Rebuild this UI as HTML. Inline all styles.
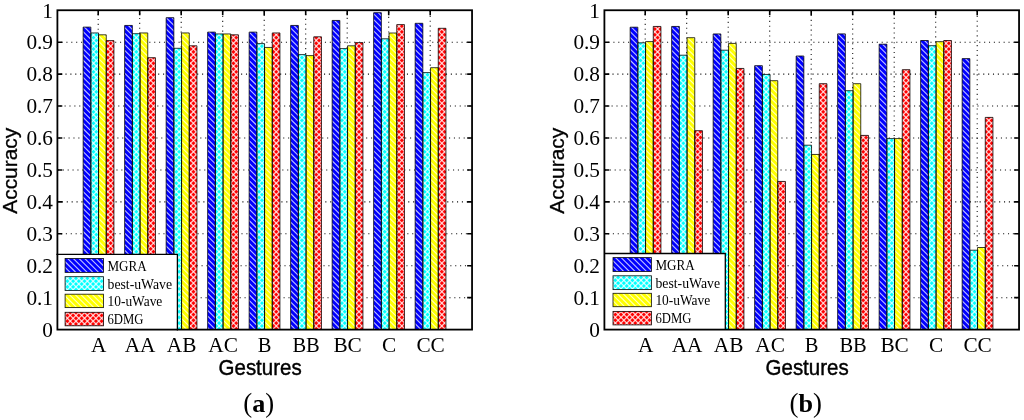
<!DOCTYPE html>
<html lang="en">
<head>
<meta charset="utf-8">
<title>Accuracy by gesture</title>
<style>
html,body{margin:0;padding:0;background:#fff;}
body{width:1024px;height:420px;overflow:hidden;}
svg{display:block;}
text{fill:#000;}
</style>
</head>
<body>
<svg width="1024" height="420" viewBox="0 0 1024 420">
<defs>
<path id="hbk" d="M-268.07,10.25l319.4,319.4M-262.36,10.25l319.4,319.4M-256.65,10.25l319.4,319.4M-250.94,10.25l319.4,319.4M-245.23,10.25l319.4,319.4M-239.52,10.25l319.4,319.4M-233.81,10.25l319.4,319.4M-228.10,10.25l319.4,319.4M-222.39,10.25l319.4,319.4M-216.68,10.25l319.4,319.4M-210.97,10.25l319.4,319.4M-205.26,10.25l319.4,319.4M-199.55,10.25l319.4,319.4M-193.84,10.25l319.4,319.4M-188.13,10.25l319.4,319.4M-182.42,10.25l319.4,319.4M-176.71,10.25l319.4,319.4M-171.00,10.25l319.4,319.4M-165.29,10.25l319.4,319.4M-159.58,10.25l319.4,319.4M-153.87,10.25l319.4,319.4M-148.16,10.25l319.4,319.4M-142.45,10.25l319.4,319.4M-136.74,10.25l319.4,319.4M-131.03,10.25l319.4,319.4M-125.32,10.25l319.4,319.4M-119.61,10.25l319.4,319.4M-113.90,10.25l319.4,319.4M-108.19,10.25l319.4,319.4M-102.48,10.25l319.4,319.4M-96.77,10.25l319.4,319.4M-91.06,10.25l319.4,319.4M-85.35,10.25l319.4,319.4M-79.64,10.25l319.4,319.4M-73.93,10.25l319.4,319.4M-68.22,10.25l319.4,319.4M-62.51,10.25l319.4,319.4M-56.80,10.25l319.4,319.4M-51.09,10.25l319.4,319.4M-45.38,10.25l319.4,319.4M-39.67,10.25l319.4,319.4M-33.96,10.25l319.4,319.4M-28.25,10.25l319.4,319.4M-22.54,10.25l319.4,319.4M-16.83,10.25l319.4,319.4M-11.12,10.25l319.4,319.4M-5.41,10.25l319.4,319.4M0.30,10.25l319.4,319.4M6.01,10.25l319.4,319.4M11.72,10.25l319.4,319.4M17.43,10.25l319.4,319.4M23.14,10.25l319.4,319.4M28.85,10.25l319.4,319.4M34.56,10.25l319.4,319.4M40.27,10.25l319.4,319.4M45.98,10.25l319.4,319.4M51.69,10.25l319.4,319.4M57.40,10.25l319.4,319.4M63.11,10.25l319.4,319.4M68.82,10.25l319.4,319.4M74.53,10.25l319.4,319.4M80.24,10.25l319.4,319.4M85.95,10.25l319.4,319.4M91.66,10.25l319.4,319.4M97.37,10.25l319.4,319.4M103.08,10.25l319.4,319.4M108.79,10.25l319.4,319.4M114.50,10.25l319.4,319.4M120.21,10.25l319.4,319.4M125.92,10.25l319.4,319.4M131.63,10.25l319.4,319.4M137.34,10.25l319.4,319.4M143.05,10.25l319.4,319.4M148.76,10.25l319.4,319.4M154.47,10.25l319.4,319.4M160.18,10.25l319.4,319.4M165.89,10.25l319.4,319.4M171.60,10.25l319.4,319.4M177.31,10.25l319.4,319.4M183.02,10.25l319.4,319.4M188.73,10.25l319.4,319.4M194.44,10.25l319.4,319.4M200.15,10.25l319.4,319.4M205.86,10.25l319.4,319.4M211.57,10.25l319.4,319.4M217.28,10.25l319.4,319.4M222.99,10.25l319.4,319.4M228.70,10.25l319.4,319.4M234.41,10.25l319.4,319.4M240.12,10.25l319.4,319.4M245.83,10.25l319.4,319.4M251.54,10.25l319.4,319.4M257.25,10.25l319.4,319.4M262.96,10.25l319.4,319.4M268.67,10.25l319.4,319.4M274.38,10.25l319.4,319.4M280.09,10.25l319.4,319.4M285.80,10.25l319.4,319.4M291.51,10.25l319.4,319.4M297.22,10.25l319.4,319.4M302.93,10.25l319.4,319.4M308.64,10.25l319.4,319.4M314.35,10.25l319.4,319.4M320.06,10.25l319.4,319.4M325.77,10.25l319.4,319.4M331.48,10.25l319.4,319.4M337.19,10.25l319.4,319.4M342.90,10.25l319.4,319.4M348.61,10.25l319.4,319.4M354.32,10.25l319.4,319.4M360.03,10.25l319.4,319.4M365.74,10.25l319.4,319.4M371.45,10.25l319.4,319.4M377.16,10.25l319.4,319.4M382.87,10.25l319.4,319.4M388.58,10.25l319.4,319.4M394.29,10.25l319.4,319.4M400.00,10.25l319.4,319.4M405.71,10.25l319.4,319.4M411.42,10.25l319.4,319.4M417.13,10.25l319.4,319.4M422.84,10.25l319.4,319.4M428.55,10.25l319.4,319.4M434.26,10.25l319.4,319.4M439.97,10.25l319.4,319.4M445.68,10.25l319.4,319.4M451.39,10.25l319.4,319.4M457.10,10.25l319.4,319.4M462.81,10.25l319.4,319.4M468.52,10.25l319.4,319.4M474.23,10.25l319.4,319.4"/>
<path id="hfw" d="M57.40,10.25l-319.4,319.4M63.11,10.25l-319.4,319.4M68.82,10.25l-319.4,319.4M74.53,10.25l-319.4,319.4M80.24,10.25l-319.4,319.4M85.95,10.25l-319.4,319.4M91.66,10.25l-319.4,319.4M97.37,10.25l-319.4,319.4M103.08,10.25l-319.4,319.4M108.79,10.25l-319.4,319.4M114.50,10.25l-319.4,319.4M120.21,10.25l-319.4,319.4M125.92,10.25l-319.4,319.4M131.63,10.25l-319.4,319.4M137.34,10.25l-319.4,319.4M143.05,10.25l-319.4,319.4M148.76,10.25l-319.4,319.4M154.47,10.25l-319.4,319.4M160.18,10.25l-319.4,319.4M165.89,10.25l-319.4,319.4M171.60,10.25l-319.4,319.4M177.31,10.25l-319.4,319.4M183.02,10.25l-319.4,319.4M188.73,10.25l-319.4,319.4M194.44,10.25l-319.4,319.4M200.15,10.25l-319.4,319.4M205.86,10.25l-319.4,319.4M211.57,10.25l-319.4,319.4M217.28,10.25l-319.4,319.4M222.99,10.25l-319.4,319.4M228.70,10.25l-319.4,319.4M234.41,10.25l-319.4,319.4M240.12,10.25l-319.4,319.4M245.83,10.25l-319.4,319.4M251.54,10.25l-319.4,319.4M257.25,10.25l-319.4,319.4M262.96,10.25l-319.4,319.4M268.67,10.25l-319.4,319.4M274.38,10.25l-319.4,319.4M280.09,10.25l-319.4,319.4M285.80,10.25l-319.4,319.4M291.51,10.25l-319.4,319.4M297.22,10.25l-319.4,319.4M302.93,10.25l-319.4,319.4M308.64,10.25l-319.4,319.4M314.35,10.25l-319.4,319.4M320.06,10.25l-319.4,319.4M325.77,10.25l-319.4,319.4M331.48,10.25l-319.4,319.4M337.19,10.25l-319.4,319.4M342.90,10.25l-319.4,319.4M348.61,10.25l-319.4,319.4M354.32,10.25l-319.4,319.4M360.03,10.25l-319.4,319.4M365.74,10.25l-319.4,319.4M371.45,10.25l-319.4,319.4M377.16,10.25l-319.4,319.4M382.87,10.25l-319.4,319.4M388.58,10.25l-319.4,319.4M394.29,10.25l-319.4,319.4M400.00,10.25l-319.4,319.4M405.71,10.25l-319.4,319.4M411.42,10.25l-319.4,319.4M417.13,10.25l-319.4,319.4M422.84,10.25l-319.4,319.4M428.55,10.25l-319.4,319.4M434.26,10.25l-319.4,319.4M439.97,10.25l-319.4,319.4M445.68,10.25l-319.4,319.4M451.39,10.25l-319.4,319.4M457.10,10.25l-319.4,319.4M462.81,10.25l-319.4,319.4M468.52,10.25l-319.4,319.4M474.23,10.25l-319.4,319.4M479.94,10.25l-319.4,319.4M485.65,10.25l-319.4,319.4M491.36,10.25l-319.4,319.4M497.07,10.25l-319.4,319.4M502.78,10.25l-319.4,319.4M508.49,10.25l-319.4,319.4M514.20,10.25l-319.4,319.4M519.91,10.25l-319.4,319.4M525.62,10.25l-319.4,319.4M531.33,10.25l-319.4,319.4M537.04,10.25l-319.4,319.4M542.75,10.25l-319.4,319.4M548.46,10.25l-319.4,319.4M554.17,10.25l-319.4,319.4M559.88,10.25l-319.4,319.4M565.59,10.25l-319.4,319.4M571.30,10.25l-319.4,319.4M577.01,10.25l-319.4,319.4M582.72,10.25l-319.4,319.4M588.43,10.25l-319.4,319.4M594.14,10.25l-319.4,319.4M599.85,10.25l-319.4,319.4M605.56,10.25l-319.4,319.4M611.27,10.25l-319.4,319.4M616.98,10.25l-319.4,319.4M622.69,10.25l-319.4,319.4M628.40,10.25l-319.4,319.4M634.11,10.25l-319.4,319.4M639.82,10.25l-319.4,319.4M645.53,10.25l-319.4,319.4M651.24,10.25l-319.4,319.4M656.95,10.25l-319.4,319.4M662.66,10.25l-319.4,319.4M668.37,10.25l-319.4,319.4M674.08,10.25l-319.4,319.4M679.79,10.25l-319.4,319.4M685.50,10.25l-319.4,319.4M691.21,10.25l-319.4,319.4M696.92,10.25l-319.4,319.4M702.63,10.25l-319.4,319.4M708.34,10.25l-319.4,319.4M714.05,10.25l-319.4,319.4M719.76,10.25l-319.4,319.4M725.47,10.25l-319.4,319.4M731.18,10.25l-319.4,319.4M736.89,10.25l-319.4,319.4M742.60,10.25l-319.4,319.4M748.31,10.25l-319.4,319.4M754.02,10.25l-319.4,319.4M759.73,10.25l-319.4,319.4M765.44,10.25l-319.4,319.4M771.15,10.25l-319.4,319.4M776.86,10.25l-319.4,319.4M782.57,10.25l-319.4,319.4M788.28,10.25l-319.4,319.4M793.99,10.25l-319.4,319.4"/>
<clipPath id="sd"><rect x="65.1" y="258.5" width="38.4" height="13.90"/><rect x="65.1" y="294.2" width="38.4" height="13.40"/></clipPath>
<clipPath id="sx"><rect x="65.1" y="276.7" width="38.4" height="13.80"/><rect x="65.1" y="312.3" width="38.4" height="13.50"/></clipPath>
</defs>
<rect width="1024" height="420" fill="#fff"/>
<g transform="translate(0,0)">
<g stroke="#111" stroke-width="1.05" stroke-dasharray="1.1 3.778" fill="none">
<path d="M98.20,10.25 V329.6" stroke-dashoffset="1.06"/>
<path d="M139.70,10.25 V329.6" stroke-dashoffset="2.06"/>
<path d="M181.20,10.25 V329.6" stroke-dashoffset="3.06"/>
<path d="M222.70,10.25 V329.6" stroke-dashoffset="4.06"/>
<path d="M264.20,10.25 V329.6" stroke-dashoffset="0.18"/>
<path d="M305.70,10.25 V329.6" stroke-dashoffset="1.18"/>
<path d="M347.20,10.25 V329.6" stroke-dashoffset="2.18"/>
<path d="M388.70,10.25 V329.6" stroke-dashoffset="3.18"/>
<path d="M430.20,10.25 V329.6" stroke-dashoffset="4.18"/>
<path d="M57.4,297.67 H472.05" stroke-dashoffset="3.11"/>
<path d="M57.4,265.73 H472.05" stroke-dashoffset="2.21"/>
<path d="M57.4,233.80 H472.05" stroke-dashoffset="1.31"/>
<path d="M57.4,201.86 H472.05" stroke-dashoffset="0.41"/>
<path d="M57.4,169.93 H472.05" stroke-dashoffset="4.39"/>
<path d="M57.4,137.99 H472.05" stroke-dashoffset="3.49"/>
<path d="M57.4,106.06 H472.05" stroke-dashoffset="2.59"/>
<path d="M57.4,74.12 H472.05" stroke-dashoffset="1.69"/>
<path d="M57.4,42.19 H472.05" stroke-dashoffset="0.79"/>
</g>
<path d="M98.20,10.25 v4.9 M98.20,329.6 v-4.9 M139.70,10.25 v4.9 M139.70,329.6 v-4.9 M181.20,10.25 v4.9 M181.20,329.6 v-4.9 M222.70,10.25 v4.9 M222.70,329.6 v-4.9 M264.20,10.25 v4.9 M264.20,329.6 v-4.9 M305.70,10.25 v4.9 M305.70,329.6 v-4.9 M347.20,10.25 v4.9 M347.20,329.6 v-4.9 M388.70,10.25 v4.9 M388.70,329.6 v-4.9 M430.20,10.25 v4.9 M430.20,329.6 v-4.9 M57.4,297.67 h4.9 M472.05,297.67 h-4.9 M57.4,265.73 h4.9 M472.05,265.73 h-4.9 M57.4,233.80 h4.9 M472.05,233.80 h-4.9 M57.4,201.86 h4.9 M472.05,201.86 h-4.9 M57.4,169.93 h4.9 M472.05,169.93 h-4.9 M57.4,137.99 h4.9 M472.05,137.99 h-4.9 M57.4,106.06 h4.9 M472.05,106.06 h-4.9 M57.4,74.12 h4.9 M472.05,74.12 h-4.9 M57.4,42.19 h4.9 M472.05,42.19 h-4.9" stroke="#000" stroke-width="1.6" fill="none"/>
<rect x="83.15" y="27.10" width="7.7" height="302.50" fill="#0000ff"/>
<rect x="90.85" y="32.95" width="7.7" height="296.65" fill="#00ffff"/>
<rect x="98.55" y="34.80" width="7.7" height="294.80" fill="#ffff00"/>
<rect x="106.25" y="40.60" width="7.7" height="289.00" fill="#ff0000"/>
<rect x="124.65" y="25.45" width="7.7" height="304.15" fill="#0000ff"/>
<rect x="132.35" y="33.70" width="7.7" height="295.90" fill="#00ffff"/>
<rect x="140.05" y="32.95" width="7.7" height="296.65" fill="#ffff00"/>
<rect x="147.75" y="57.70" width="7.7" height="271.90" fill="#ff0000"/>
<rect x="166.15" y="17.70" width="7.7" height="311.90" fill="#0000ff"/>
<rect x="173.85" y="48.30" width="7.7" height="281.30" fill="#00ffff"/>
<rect x="181.55" y="32.95" width="7.7" height="296.65" fill="#ffff00"/>
<rect x="189.25" y="45.80" width="7.7" height="283.80" fill="#ff0000"/>
<rect x="207.65" y="32.10" width="7.7" height="297.50" fill="#0000ff"/>
<rect x="215.35" y="33.95" width="7.7" height="295.65" fill="#00ffff"/>
<rect x="223.05" y="33.95" width="7.7" height="295.65" fill="#ffff00"/>
<rect x="230.75" y="34.80" width="7.7" height="294.80" fill="#ff0000"/>
<rect x="249.15" y="32.10" width="7.7" height="297.50" fill="#0000ff"/>
<rect x="256.85" y="43.60" width="7.7" height="286.00" fill="#00ffff"/>
<rect x="264.55" y="47.45" width="7.7" height="282.15" fill="#ffff00"/>
<rect x="272.25" y="32.95" width="7.7" height="296.65" fill="#ff0000"/>
<rect x="290.65" y="25.45" width="7.7" height="304.15" fill="#0000ff"/>
<rect x="298.35" y="54.60" width="7.7" height="275.00" fill="#00ffff"/>
<rect x="306.05" y="55.60" width="7.7" height="274.00" fill="#ffff00"/>
<rect x="313.75" y="36.80" width="7.7" height="292.80" fill="#ff0000"/>
<rect x="332.15" y="20.45" width="7.7" height="309.15" fill="#0000ff"/>
<rect x="339.85" y="48.60" width="7.7" height="281.00" fill="#00ffff"/>
<rect x="347.55" y="45.80" width="7.7" height="283.80" fill="#ffff00"/>
<rect x="355.25" y="42.60" width="7.7" height="287.00" fill="#ff0000"/>
<rect x="373.65" y="12.70" width="7.7" height="316.90" fill="#0000ff"/>
<rect x="381.35" y="38.80" width="7.7" height="290.80" fill="#00ffff"/>
<rect x="389.05" y="33.00" width="7.7" height="296.60" fill="#ffff00"/>
<rect x="396.75" y="24.60" width="7.7" height="305.00" fill="#ff0000"/>
<rect x="415.15" y="23.30" width="7.7" height="306.30" fill="#0000ff"/>
<rect x="422.85" y="72.60" width="7.7" height="257.00" fill="#00ffff"/>
<rect x="430.55" y="67.70" width="7.7" height="261.90" fill="#ffff00"/>
<rect x="438.25" y="28.30" width="7.7" height="301.30" fill="#ff0000"/>
<clipPath id="cda"><rect x="83.15" y="27.10" width="7.7" height="302.50"/><rect x="98.55" y="34.80" width="7.7" height="294.80"/><rect x="124.65" y="25.45" width="7.7" height="304.15"/><rect x="140.05" y="32.95" width="7.7" height="296.65"/><rect x="166.15" y="17.70" width="7.7" height="311.90"/><rect x="181.55" y="32.95" width="7.7" height="296.65"/><rect x="207.65" y="32.10" width="7.7" height="297.50"/><rect x="223.05" y="33.95" width="7.7" height="295.65"/><rect x="249.15" y="32.10" width="7.7" height="297.50"/><rect x="264.55" y="47.45" width="7.7" height="282.15"/><rect x="290.65" y="25.45" width="7.7" height="304.15"/><rect x="306.05" y="55.60" width="7.7" height="274.00"/><rect x="332.15" y="20.45" width="7.7" height="309.15"/><rect x="347.55" y="45.80" width="7.7" height="283.80"/><rect x="373.65" y="12.70" width="7.7" height="316.90"/><rect x="389.05" y="33.00" width="7.7" height="296.60"/><rect x="415.15" y="23.30" width="7.7" height="306.30"/><rect x="430.55" y="67.70" width="7.7" height="261.90"/></clipPath>
<clipPath id="cxa"><rect x="90.85" y="32.95" width="7.7" height="296.65"/><rect x="106.25" y="40.60" width="7.7" height="289.00"/><rect x="132.35" y="33.70" width="7.7" height="295.90"/><rect x="147.75" y="57.70" width="7.7" height="271.90"/><rect x="173.85" y="48.30" width="7.7" height="281.30"/><rect x="189.25" y="45.80" width="7.7" height="283.80"/><rect x="215.35" y="33.95" width="7.7" height="295.65"/><rect x="230.75" y="34.80" width="7.7" height="294.80"/><rect x="256.85" y="43.60" width="7.7" height="286.00"/><rect x="272.25" y="32.95" width="7.7" height="296.65"/><rect x="298.35" y="54.60" width="7.7" height="275.00"/><rect x="313.75" y="36.80" width="7.7" height="292.80"/><rect x="339.85" y="48.60" width="7.7" height="281.00"/><rect x="355.25" y="42.60" width="7.7" height="287.00"/><rect x="381.35" y="38.80" width="7.7" height="290.80"/><rect x="396.75" y="24.60" width="7.7" height="305.00"/><rect x="422.85" y="72.60" width="7.7" height="257.00"/><rect x="438.25" y="28.30" width="7.7" height="301.30"/></clipPath>
<g clip-path="url(#cda)" fill="none" stroke="#fff" stroke-width="1.1" stroke-opacity="0.75"><use href="#hbk" x="4.3"/></g>
<g clip-path="url(#cxa)" fill="none" stroke="#fff" stroke-width="1.3" stroke-opacity="0.75"><use href="#hbk" x="0.2"/><use href="#hfw" x="3.5"/></g>
<path d="M83.15,329.6 V27.10 h7.7 V329.6 M90.85,329.6 V32.95 h7.7 V329.6 M98.55,329.6 V34.80 h7.7 V329.6 M106.25,329.6 V40.60 h7.7 V329.6 M124.65,329.6 V25.45 h7.7 V329.6 M132.35,329.6 V33.70 h7.7 V329.6 M140.05,329.6 V32.95 h7.7 V329.6 M147.75,329.6 V57.70 h7.7 V329.6 M166.15,329.6 V17.70 h7.7 V329.6 M173.85,329.6 V48.30 h7.7 V329.6 M181.55,329.6 V32.95 h7.7 V329.6 M189.25,329.6 V45.80 h7.7 V329.6 M207.65,329.6 V32.10 h7.7 V329.6 M215.35,329.6 V33.95 h7.7 V329.6 M223.05,329.6 V33.95 h7.7 V329.6 M230.75,329.6 V34.80 h7.7 V329.6 M249.15,329.6 V32.10 h7.7 V329.6 M256.85,329.6 V43.60 h7.7 V329.6 M264.55,329.6 V47.45 h7.7 V329.6 M272.25,329.6 V32.95 h7.7 V329.6 M290.65,329.6 V25.45 h7.7 V329.6 M298.35,329.6 V54.60 h7.7 V329.6 M306.05,329.6 V55.60 h7.7 V329.6 M313.75,329.6 V36.80 h7.7 V329.6 M332.15,329.6 V20.45 h7.7 V329.6 M339.85,329.6 V48.60 h7.7 V329.6 M347.55,329.6 V45.80 h7.7 V329.6 M355.25,329.6 V42.60 h7.7 V329.6 M373.65,329.6 V12.70 h7.7 V329.6 M381.35,329.6 V38.80 h7.7 V329.6 M389.05,329.6 V33.00 h7.7 V329.6 M396.75,329.6 V24.60 h7.7 V329.6 M415.15,329.6 V23.30 h7.7 V329.6 M422.85,329.6 V72.60 h7.7 V329.6 M430.55,329.6 V67.70 h7.7 V329.6 M438.25,329.6 V28.30 h7.7 V329.6" fill="none" stroke="#000" stroke-width="0.85" stroke-opacity="0.9"/>
<g transform="translate(0,0)">
<rect x="56.4" y="254.4" width="121.00" height="76.20" fill="#fff"/>
<path d="M56.4,254.4 H177.4 V330.6" fill="none" stroke="#000" stroke-width="1.3"/>
<rect x="65.1" y="258.5" width="38.4" height="13.90" fill="#0000ff"/>
<rect x="65.1" y="276.7" width="38.4" height="13.80" fill="#00ffff"/>
<rect x="65.1" y="294.2" width="38.4" height="13.40" fill="#ffff00"/>
<rect x="65.1" y="312.3" width="38.4" height="13.50" fill="#ff0000"/>
<g clip-path="url(#sd)" fill="none" stroke="#fff" stroke-width="1.1" stroke-opacity="0.75"><use href="#hbk" x="1.77"/></g>
<g clip-path="url(#sx)" fill="none" stroke="#fff" stroke-width="1.3" stroke-opacity="0.75"><use href="#hbk" x="4.6"/><use href="#hfw" x="3.97"/></g>
<rect x="65.1" y="258.5" width="38.4" height="13.90" fill="none" stroke="#000" stroke-width="0.85" stroke-opacity="0.9"/>
<text x="107.5" y="270.7" textLength="39.2" lengthAdjust="spacingAndGlyphs" font-family='"Liberation Serif", "DejaVu Serif", serif' font-size="14.4">MGRA</text>
<rect x="65.1" y="276.7" width="38.4" height="13.80" fill="none" stroke="#000" stroke-width="0.85" stroke-opacity="0.9"/>
<text x="107.5" y="288.7" textLength="64.6" lengthAdjust="spacingAndGlyphs" font-family='"Liberation Serif", "DejaVu Serif", serif' font-size="14.4">best-uWave</text>
<rect x="65.1" y="294.2" width="38.4" height="13.40" fill="none" stroke="#000" stroke-width="0.85" stroke-opacity="0.9"/>
<text x="107.5" y="305.5" textLength="54.8" lengthAdjust="spacingAndGlyphs" font-family='"Liberation Serif", "DejaVu Serif", serif' font-size="14.4">10-uWave</text>
<rect x="65.1" y="312.3" width="38.4" height="13.50" fill="none" stroke="#000" stroke-width="0.85" stroke-opacity="0.9"/>
<text x="107.5" y="323.5" textLength="36.0" lengthAdjust="spacingAndGlyphs" font-family='"Liberation Serif", "DejaVu Serif", serif' font-size="14.4">6DMG</text>
</g>
<rect x="57.4" y="10.25" width="414.65" height="319.35" fill="none" stroke="#000" stroke-width="1.8"/>
<text x="53.0" y="336.85" text-anchor="end" font-family='"Liberation Serif", "DejaVu Serif", serif' font-size="21.3">0</text>
<text x="53.0" y="304.92" text-anchor="end" font-family='"Liberation Serif", "DejaVu Serif", serif' font-size="21.3">0.1</text>
<text x="53.0" y="272.98" text-anchor="end" font-family='"Liberation Serif", "DejaVu Serif", serif' font-size="21.3">0.2</text>
<text x="53.0" y="241.05" text-anchor="end" font-family='"Liberation Serif", "DejaVu Serif", serif' font-size="21.3">0.3</text>
<text x="53.0" y="209.11" text-anchor="end" font-family='"Liberation Serif", "DejaVu Serif", serif' font-size="21.3">0.4</text>
<text x="53.0" y="177.18" text-anchor="end" font-family='"Liberation Serif", "DejaVu Serif", serif' font-size="21.3">0.5</text>
<text x="53.0" y="145.24" text-anchor="end" font-family='"Liberation Serif", "DejaVu Serif", serif' font-size="21.3">0.6</text>
<text x="53.0" y="113.31" text-anchor="end" font-family='"Liberation Serif", "DejaVu Serif", serif' font-size="21.3">0.7</text>
<text x="53.0" y="81.37" text-anchor="end" font-family='"Liberation Serif", "DejaVu Serif", serif' font-size="21.3">0.8</text>
<text x="53.0" y="49.44" text-anchor="end" font-family='"Liberation Serif", "DejaVu Serif", serif' font-size="21.3">0.9</text>
<text x="53.0" y="17.50" text-anchor="end" font-family='"Liberation Serif", "DejaVu Serif", serif' font-size="21.3">1</text>
<text x="98.60" y="351.9" text-anchor="middle" font-family='"Liberation Serif", "DejaVu Serif", serif' font-size="21.3">A</text>
<text x="140.10" y="351.9" text-anchor="middle" font-family='"Liberation Serif", "DejaVu Serif", serif' font-size="21.3">AA</text>
<text x="181.60" y="351.9" text-anchor="middle" font-family='"Liberation Serif", "DejaVu Serif", serif' font-size="21.3">AB</text>
<text x="223.10" y="351.9" text-anchor="middle" font-family='"Liberation Serif", "DejaVu Serif", serif' font-size="21.3">AC</text>
<text x="264.60" y="351.9" text-anchor="middle" textLength="13.7" lengthAdjust="spacingAndGlyphs" font-family='"Liberation Serif", "DejaVu Serif", serif' font-size="21.3">B</text>
<text x="306.10" y="351.9" text-anchor="middle" textLength="27.4" lengthAdjust="spacingAndGlyphs" font-family='"Liberation Serif", "DejaVu Serif", serif' font-size="21.3">BB</text>
<text x="347.60" y="351.9" text-anchor="middle" font-family='"Liberation Serif", "DejaVu Serif", serif' font-size="21.3">BC</text>
<text x="389.10" y="351.9" text-anchor="middle" font-family='"Liberation Serif", "DejaVu Serif", serif' font-size="21.3">C</text>
<text x="430.60" y="351.9" text-anchor="middle" font-family='"Liberation Serif", "DejaVu Serif", serif' font-size="21.3">CC</text>
<text transform="translate(260.1,375.2) scale(1,1.05)" text-anchor="middle" font-family='"Liberation Sans", "DejaVu Sans", sans-serif' font-size="20.5" stroke="#000" stroke-width="0.4">Gestures</text>
<text transform="translate(16.9,170.8) rotate(-90)" text-anchor="middle" font-family='"Liberation Sans", "DejaVu Sans", sans-serif' font-size="20.9" stroke="#000" stroke-width="0.3">Accuracy</text>
<text x="258.7" y="411.8" text-anchor="middle" font-family='"Liberation Serif", "DejaVu Serif", serif' font-size="26.8">(<tspan font-weight="bold" font-size="26.2">a</tspan>)</text>
</g>
<g transform="translate(547.0,0)">
<g stroke="#111" stroke-width="1.05" stroke-dasharray="1.1 3.778" fill="none">
<path d="M98.20,10.25 V329.6" stroke-dashoffset="1.06"/>
<path d="M139.70,10.25 V329.6" stroke-dashoffset="2.06"/>
<path d="M181.20,10.25 V329.6" stroke-dashoffset="3.06"/>
<path d="M222.70,10.25 V329.6" stroke-dashoffset="4.06"/>
<path d="M264.20,10.25 V329.6" stroke-dashoffset="0.18"/>
<path d="M305.70,10.25 V329.6" stroke-dashoffset="1.18"/>
<path d="M347.20,10.25 V329.6" stroke-dashoffset="2.18"/>
<path d="M388.70,10.25 V329.6" stroke-dashoffset="3.18"/>
<path d="M430.20,10.25 V329.6" stroke-dashoffset="4.18"/>
<path d="M57.4,297.67 H472.05" stroke-dashoffset="3.11"/>
<path d="M57.4,265.73 H472.05" stroke-dashoffset="2.21"/>
<path d="M57.4,233.80 H472.05" stroke-dashoffset="1.31"/>
<path d="M57.4,201.86 H472.05" stroke-dashoffset="0.41"/>
<path d="M57.4,169.93 H472.05" stroke-dashoffset="4.39"/>
<path d="M57.4,137.99 H472.05" stroke-dashoffset="3.49"/>
<path d="M57.4,106.06 H472.05" stroke-dashoffset="2.59"/>
<path d="M57.4,74.12 H472.05" stroke-dashoffset="1.69"/>
<path d="M57.4,42.19 H472.05" stroke-dashoffset="0.79"/>
</g>
<path d="M98.20,10.25 v4.9 M98.20,329.6 v-4.9 M139.70,10.25 v4.9 M139.70,329.6 v-4.9 M181.20,10.25 v4.9 M181.20,329.6 v-4.9 M222.70,10.25 v4.9 M222.70,329.6 v-4.9 M264.20,10.25 v4.9 M264.20,329.6 v-4.9 M305.70,10.25 v4.9 M305.70,329.6 v-4.9 M347.20,10.25 v4.9 M347.20,329.6 v-4.9 M388.70,10.25 v4.9 M388.70,329.6 v-4.9 M430.20,10.25 v4.9 M430.20,329.6 v-4.9 M57.4,297.67 h4.9 M472.05,297.67 h-4.9 M57.4,265.73 h4.9 M472.05,265.73 h-4.9 M57.4,233.80 h4.9 M472.05,233.80 h-4.9 M57.4,201.86 h4.9 M472.05,201.86 h-4.9 M57.4,169.93 h4.9 M472.05,169.93 h-4.9 M57.4,137.99 h4.9 M472.05,137.99 h-4.9 M57.4,106.06 h4.9 M472.05,106.06 h-4.9 M57.4,74.12 h4.9 M472.05,74.12 h-4.9 M57.4,42.19 h4.9 M472.05,42.19 h-4.9" stroke="#000" stroke-width="1.6" fill="none"/>
<rect x="83.15" y="27.20" width="7.7" height="302.40" fill="#0000ff"/>
<rect x="90.85" y="42.80" width="7.7" height="286.80" fill="#00ffff"/>
<rect x="98.55" y="41.60" width="7.7" height="288.00" fill="#ffff00"/>
<rect x="106.25" y="26.45" width="7.7" height="303.15" fill="#ff0000"/>
<rect x="124.65" y="26.45" width="7.7" height="303.15" fill="#0000ff"/>
<rect x="132.35" y="55.20" width="7.7" height="274.40" fill="#00ffff"/>
<rect x="140.05" y="37.70" width="7.7" height="291.90" fill="#ffff00"/>
<rect x="147.75" y="130.70" width="7.7" height="198.90" fill="#ff0000"/>
<rect x="166.15" y="33.95" width="7.7" height="295.65" fill="#0000ff"/>
<rect x="173.85" y="50.20" width="7.7" height="279.40" fill="#00ffff"/>
<rect x="181.55" y="43.40" width="7.7" height="286.20" fill="#ffff00"/>
<rect x="189.25" y="68.45" width="7.7" height="261.15" fill="#ff0000"/>
<rect x="207.65" y="65.70" width="7.7" height="263.90" fill="#0000ff"/>
<rect x="215.35" y="74.45" width="7.7" height="255.15" fill="#00ffff"/>
<rect x="223.05" y="80.70" width="7.7" height="248.90" fill="#ffff00"/>
<rect x="230.75" y="181.45" width="7.7" height="148.15" fill="#ff0000"/>
<rect x="249.15" y="56.00" width="7.7" height="273.60" fill="#0000ff"/>
<rect x="256.85" y="145.20" width="7.7" height="184.40" fill="#00ffff"/>
<rect x="264.55" y="154.45" width="7.7" height="175.15" fill="#ffff00"/>
<rect x="272.25" y="83.70" width="7.7" height="245.90" fill="#ff0000"/>
<rect x="290.65" y="33.90" width="7.7" height="295.70" fill="#0000ff"/>
<rect x="298.35" y="90.70" width="7.7" height="238.90" fill="#00ffff"/>
<rect x="306.05" y="83.70" width="7.7" height="245.90" fill="#ffff00"/>
<rect x="313.75" y="135.40" width="7.7" height="194.20" fill="#ff0000"/>
<rect x="332.15" y="44.20" width="7.7" height="285.40" fill="#0000ff"/>
<rect x="339.85" y="138.60" width="7.7" height="191.00" fill="#00ffff"/>
<rect x="347.55" y="138.60" width="7.7" height="191.00" fill="#ffff00"/>
<rect x="355.25" y="69.70" width="7.7" height="259.90" fill="#ff0000"/>
<rect x="373.65" y="40.50" width="7.7" height="289.10" fill="#0000ff"/>
<rect x="381.35" y="45.70" width="7.7" height="283.90" fill="#00ffff"/>
<rect x="389.05" y="41.70" width="7.7" height="287.90" fill="#ffff00"/>
<rect x="396.75" y="40.50" width="7.7" height="289.10" fill="#ff0000"/>
<rect x="415.15" y="58.60" width="7.7" height="271.00" fill="#0000ff"/>
<rect x="422.85" y="250.20" width="7.7" height="79.40" fill="#00ffff"/>
<rect x="430.55" y="247.50" width="7.7" height="82.10" fill="#ffff00"/>
<rect x="438.25" y="117.40" width="7.7" height="212.20" fill="#ff0000"/>
<clipPath id="cdb"><rect x="83.15" y="27.20" width="7.7" height="302.40"/><rect x="98.55" y="41.60" width="7.7" height="288.00"/><rect x="124.65" y="26.45" width="7.7" height="303.15"/><rect x="140.05" y="37.70" width="7.7" height="291.90"/><rect x="166.15" y="33.95" width="7.7" height="295.65"/><rect x="181.55" y="43.40" width="7.7" height="286.20"/><rect x="207.65" y="65.70" width="7.7" height="263.90"/><rect x="223.05" y="80.70" width="7.7" height="248.90"/><rect x="249.15" y="56.00" width="7.7" height="273.60"/><rect x="264.55" y="154.45" width="7.7" height="175.15"/><rect x="290.65" y="33.90" width="7.7" height="295.70"/><rect x="306.05" y="83.70" width="7.7" height="245.90"/><rect x="332.15" y="44.20" width="7.7" height="285.40"/><rect x="347.55" y="138.60" width="7.7" height="191.00"/><rect x="373.65" y="40.50" width="7.7" height="289.10"/><rect x="389.05" y="41.70" width="7.7" height="287.90"/><rect x="415.15" y="58.60" width="7.7" height="271.00"/><rect x="430.55" y="247.50" width="7.7" height="82.10"/></clipPath>
<clipPath id="cxb"><rect x="90.85" y="42.80" width="7.7" height="286.80"/><rect x="106.25" y="26.45" width="7.7" height="303.15"/><rect x="132.35" y="55.20" width="7.7" height="274.40"/><rect x="147.75" y="130.70" width="7.7" height="198.90"/><rect x="173.85" y="50.20" width="7.7" height="279.40"/><rect x="189.25" y="68.45" width="7.7" height="261.15"/><rect x="215.35" y="74.45" width="7.7" height="255.15"/><rect x="230.75" y="181.45" width="7.7" height="148.15"/><rect x="256.85" y="145.20" width="7.7" height="184.40"/><rect x="272.25" y="83.70" width="7.7" height="245.90"/><rect x="298.35" y="90.70" width="7.7" height="238.90"/><rect x="313.75" y="135.40" width="7.7" height="194.20"/><rect x="339.85" y="138.60" width="7.7" height="191.00"/><rect x="355.25" y="69.70" width="7.7" height="259.90"/><rect x="381.35" y="45.70" width="7.7" height="283.90"/><rect x="396.75" y="40.50" width="7.7" height="289.10"/><rect x="422.85" y="250.20" width="7.7" height="79.40"/><rect x="438.25" y="117.40" width="7.7" height="212.20"/></clipPath>
<g clip-path="url(#cdb)" fill="none" stroke="#fff" stroke-width="1.1" stroke-opacity="0.75"><use href="#hbk" x="4.3"/></g>
<g clip-path="url(#cxb)" fill="none" stroke="#fff" stroke-width="1.3" stroke-opacity="0.75"><use href="#hbk" x="0.2"/><use href="#hfw" x="3.5"/></g>
<path d="M83.15,329.6 V27.20 h7.7 V329.6 M90.85,329.6 V42.80 h7.7 V329.6 M98.55,329.6 V41.60 h7.7 V329.6 M106.25,329.6 V26.45 h7.7 V329.6 M124.65,329.6 V26.45 h7.7 V329.6 M132.35,329.6 V55.20 h7.7 V329.6 M140.05,329.6 V37.70 h7.7 V329.6 M147.75,329.6 V130.70 h7.7 V329.6 M166.15,329.6 V33.95 h7.7 V329.6 M173.85,329.6 V50.20 h7.7 V329.6 M181.55,329.6 V43.40 h7.7 V329.6 M189.25,329.6 V68.45 h7.7 V329.6 M207.65,329.6 V65.70 h7.7 V329.6 M215.35,329.6 V74.45 h7.7 V329.6 M223.05,329.6 V80.70 h7.7 V329.6 M230.75,329.6 V181.45 h7.7 V329.6 M249.15,329.6 V56.00 h7.7 V329.6 M256.85,329.6 V145.20 h7.7 V329.6 M264.55,329.6 V154.45 h7.7 V329.6 M272.25,329.6 V83.70 h7.7 V329.6 M290.65,329.6 V33.90 h7.7 V329.6 M298.35,329.6 V90.70 h7.7 V329.6 M306.05,329.6 V83.70 h7.7 V329.6 M313.75,329.6 V135.40 h7.7 V329.6 M332.15,329.6 V44.20 h7.7 V329.6 M339.85,329.6 V138.60 h7.7 V329.6 M347.55,329.6 V138.60 h7.7 V329.6 M355.25,329.6 V69.70 h7.7 V329.6 M373.65,329.6 V40.50 h7.7 V329.6 M381.35,329.6 V45.70 h7.7 V329.6 M389.05,329.6 V41.70 h7.7 V329.6 M396.75,329.6 V40.50 h7.7 V329.6 M415.15,329.6 V58.60 h7.7 V329.6 M422.85,329.6 V250.20 h7.7 V329.6 M430.55,329.6 V247.50 h7.7 V329.6 M438.25,329.6 V117.40 h7.7 V329.6" fill="none" stroke="#000" stroke-width="0.85" stroke-opacity="0.9"/>
<g transform="translate(0.9,-0.9)">
<rect x="56.4" y="254.4" width="121.00" height="76.20" fill="#fff"/>
<path d="M56.4,254.4 H177.4 V330.6" fill="none" stroke="#000" stroke-width="1.3"/>
<rect x="65.1" y="258.5" width="38.4" height="13.90" fill="#0000ff"/>
<rect x="65.1" y="276.7" width="38.4" height="13.80" fill="#00ffff"/>
<rect x="65.1" y="294.2" width="38.4" height="13.40" fill="#ffff00"/>
<rect x="65.1" y="312.3" width="38.4" height="13.50" fill="#ff0000"/>
<g clip-path="url(#sd)" fill="none" stroke="#fff" stroke-width="1.1" stroke-opacity="0.75"><use href="#hbk" x="1.77"/></g>
<g clip-path="url(#sx)" fill="none" stroke="#fff" stroke-width="1.3" stroke-opacity="0.75"><use href="#hbk" x="4.6"/><use href="#hfw" x="3.97"/></g>
<rect x="65.1" y="258.5" width="38.4" height="13.90" fill="none" stroke="#000" stroke-width="0.85" stroke-opacity="0.9"/>
<text x="107.5" y="270.7" textLength="39.2" lengthAdjust="spacingAndGlyphs" font-family='"Liberation Serif", "DejaVu Serif", serif' font-size="14.4">MGRA</text>
<rect x="65.1" y="276.7" width="38.4" height="13.80" fill="none" stroke="#000" stroke-width="0.85" stroke-opacity="0.9"/>
<text x="107.5" y="288.7" textLength="64.6" lengthAdjust="spacingAndGlyphs" font-family='"Liberation Serif", "DejaVu Serif", serif' font-size="14.4">best-uWave</text>
<rect x="65.1" y="294.2" width="38.4" height="13.40" fill="none" stroke="#000" stroke-width="0.85" stroke-opacity="0.9"/>
<text x="107.5" y="305.5" textLength="54.8" lengthAdjust="spacingAndGlyphs" font-family='"Liberation Serif", "DejaVu Serif", serif' font-size="14.4">10-uWave</text>
<rect x="65.1" y="312.3" width="38.4" height="13.50" fill="none" stroke="#000" stroke-width="0.85" stroke-opacity="0.9"/>
<text x="107.5" y="323.5" textLength="36.0" lengthAdjust="spacingAndGlyphs" font-family='"Liberation Serif", "DejaVu Serif", serif' font-size="14.4">6DMG</text>
</g>
<rect x="57.4" y="10.25" width="414.65" height="319.35" fill="none" stroke="#000" stroke-width="1.8"/>
<text x="53.0" y="336.85" text-anchor="end" font-family='"Liberation Serif", "DejaVu Serif", serif' font-size="21.3">0</text>
<text x="53.0" y="304.92" text-anchor="end" font-family='"Liberation Serif", "DejaVu Serif", serif' font-size="21.3">0.1</text>
<text x="53.0" y="272.98" text-anchor="end" font-family='"Liberation Serif", "DejaVu Serif", serif' font-size="21.3">0.2</text>
<text x="53.0" y="241.05" text-anchor="end" font-family='"Liberation Serif", "DejaVu Serif", serif' font-size="21.3">0.3</text>
<text x="53.0" y="209.11" text-anchor="end" font-family='"Liberation Serif", "DejaVu Serif", serif' font-size="21.3">0.4</text>
<text x="53.0" y="177.18" text-anchor="end" font-family='"Liberation Serif", "DejaVu Serif", serif' font-size="21.3">0.5</text>
<text x="53.0" y="145.24" text-anchor="end" font-family='"Liberation Serif", "DejaVu Serif", serif' font-size="21.3">0.6</text>
<text x="53.0" y="113.31" text-anchor="end" font-family='"Liberation Serif", "DejaVu Serif", serif' font-size="21.3">0.7</text>
<text x="53.0" y="81.37" text-anchor="end" font-family='"Liberation Serif", "DejaVu Serif", serif' font-size="21.3">0.8</text>
<text x="53.0" y="49.44" text-anchor="end" font-family='"Liberation Serif", "DejaVu Serif", serif' font-size="21.3">0.9</text>
<text x="53.0" y="17.50" text-anchor="end" font-family='"Liberation Serif", "DejaVu Serif", serif' font-size="21.3">1</text>
<text x="98.60" y="351.9" text-anchor="middle" font-family='"Liberation Serif", "DejaVu Serif", serif' font-size="21.3">A</text>
<text x="140.10" y="351.9" text-anchor="middle" font-family='"Liberation Serif", "DejaVu Serif", serif' font-size="21.3">AA</text>
<text x="181.60" y="351.9" text-anchor="middle" font-family='"Liberation Serif", "DejaVu Serif", serif' font-size="21.3">AB</text>
<text x="223.10" y="351.9" text-anchor="middle" font-family='"Liberation Serif", "DejaVu Serif", serif' font-size="21.3">AC</text>
<text x="264.60" y="351.9" text-anchor="middle" textLength="13.7" lengthAdjust="spacingAndGlyphs" font-family='"Liberation Serif", "DejaVu Serif", serif' font-size="21.3">B</text>
<text x="306.10" y="351.9" text-anchor="middle" textLength="27.4" lengthAdjust="spacingAndGlyphs" font-family='"Liberation Serif", "DejaVu Serif", serif' font-size="21.3">BB</text>
<text x="347.60" y="351.9" text-anchor="middle" font-family='"Liberation Serif", "DejaVu Serif", serif' font-size="21.3">BC</text>
<text x="389.10" y="351.9" text-anchor="middle" font-family='"Liberation Serif", "DejaVu Serif", serif' font-size="21.3">C</text>
<text x="430.60" y="351.9" text-anchor="middle" font-family='"Liberation Serif", "DejaVu Serif", serif' font-size="21.3">CC</text>
<text transform="translate(260.1,375.2) scale(1,1.05)" text-anchor="middle" font-family='"Liberation Sans", "DejaVu Sans", sans-serif' font-size="20.5" stroke="#000" stroke-width="0.4">Gestures</text>
<text transform="translate(16.9,170.8) rotate(-90)" text-anchor="middle" font-family='"Liberation Sans", "DejaVu Sans", sans-serif' font-size="20.9" stroke="#000" stroke-width="0.3">Accuracy</text>
<text x="258.7" y="411.8" text-anchor="middle" font-family='"Liberation Serif", "DejaVu Serif", serif' font-size="26.8">(<tspan font-weight="bold" font-size="26.2">b</tspan>)</text>
</g>
</svg>
</body>
</html>
